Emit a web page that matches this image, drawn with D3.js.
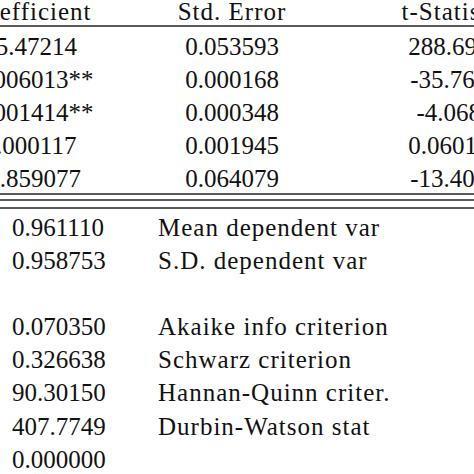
<!DOCTYPE html>
<html>
<head>
<meta charset="utf-8">
<script src="https://cdn.jsdelivr.net/npm/d3@7"></script>
<style>
  body { margin: 0; background: #fff; }
  text { font-family: "Liberation Serif", serif; font-size: 25px; fill: #111; }
  .lbl { letter-spacing: 1px; }
</style>
</head>
<body>
<div id="table"></div>
<script>
// table contents
var headers = ["Coefficient", "Std. Error", "t-Statistic"];
var coefficients = ["15.47214", "-0.006013**", "-0.001414**", "0.000117", "-0.859077"];
var stdErrors = ["0.053593", "0.000168", "0.000348", "0.001945", "0.064079"];
var tStats = ["288.6971", "-35.7619", "-4.0683", "0.060154", "-13.4065"];
var statValues = ["0.961110", "0.958753", "", "0.070350", "0.326638", "90.30150", "407.7749", "0.000000"];
var statLabels = ["Mean dependent var", "S.D. dependent var", "", "Akaike info criterion",
    "Schwarz criterion", "Hannan-Quinn criter.", "Durbin-Watson stat", ""];

var svgWidth = 474;
var svgHeight = 474;

var svg = d3.select("#table")
    .append("svg")
    .attr("width", svgWidth)
    .attr("height", svgHeight);

// column centres for the top block
var colX = { "Coefficient": 30, "Std. Error": 232, "t-Statistic": 455 };

// rows of the top block
var yTop = d3.scaleLinear().domain([0, 4]).range([46, 178]);

svg.selectAll(".head")
    .data(headers)
    .enter()
    .append("text")
    .attr("class", "lbl")
    .attr("x", d => colX[d])
    .attr("y", 11)
    .attr("dy", "0.35em")
    .attr("text-anchor", "middle")
    .text(d => d);

var columns = [coefficients, stdErrors, tStats];
columns.forEach(function(col, i) {
    svg.selectAll(".c" + i)
        .data(col)
        .enter()
        .append("text")
        .attr("x", colX[headers[i]])
        .attr("y", (d, j) => yTop(j))
        .attr("dy", "0.35em")
        .attr("text-anchor", "middle")
        .text(d => d);
});

// rules
[26, 194, 200, 208].forEach(function(y) {
    svg.append("line")
        .attr("x1", 0).attr("x2", svgWidth)
        .attr("y1", y).attr("y2", y)
        .attr("stroke", "#222")
        .attr("stroke-width", 1.6);
});

// bottom block
var yBottom = d3.scaleLinear().domain([0, 7]).range([227, 459]);

svg.selectAll(".sv")
    .data(statValues)
    .enter()
    .append("text")
    .attr("x", 12)
    .attr("y", (d, i) => yBottom(i))
    .attr("dy", "0.35em")
    .text(d => d);

svg.selectAll(".sl")
    .data(statLabels)
    .enter()
    .append("text")
    .attr("class", "lbl")
    .attr("x", 158)
    .attr("y", (d, i) => yBottom(i))
    .attr("dy", "0.35em")
    .text(d => d);
</script>
</body>
</html>
